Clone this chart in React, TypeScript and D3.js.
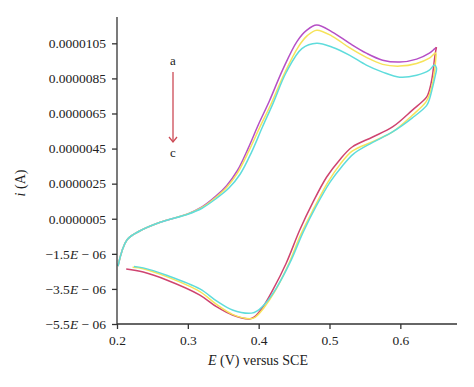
import { useEffect, useRef } from "react";
import * as d3 from "d3";

const W = 474;
const H = 387;
const margin = { top: 17, right: 17, bottom: 63, left: 117 };

// E (V) values on the x axis
const xTicks = [0.2, 0.3, 0.4, 0.5, 0.6];
// current ticks (A) and their printed labels
const yTicks = [10.5e-6, 8.5e-6, 6.5e-6, 4.5e-6, 2.5e-6, 0.5e-6, -1.5e-6, -3.5e-6, -5.5e-6];
const yLabels = ["0.0000105", "0.0000085", "0.0000065", "0.0000045", "0.0000025", "0.0000005", "-1.5E-06", "-3.5E-06", "-5.5E-06"];

// curve a, forward scan [E, i(µA)]
const aForward: [number, number][] = [
  [0.2014, -2.2], [0.214, -0.71], [0.232, -0.2], [0.261, 0.3], [0.3, 0.78],
  [0.32, 1.17], [0.34, 1.8], [0.355, 2.4], [0.37, 3.25], [0.385, 4.5], [0.4, 5.9],
  [0.415, 7.2], [0.434, 9.0], [0.454, 10.6], [0.468, 11.25], [0.482, 11.54], [0.504, 11.14],
  [0.528, 10.51], [0.552, 9.94], [0.575, 9.54], [0.599, 9.43], [0.623, 9.6],
  [0.641, 9.94], [0.648, 10.17], [0.651, 10.28],
];
// curve a, reverse scan
const aReverse: [number, number][] = [
  [0.651, 10.28], [0.649, 9.83], [0.645, 8.57], [0.641, 7.83], [0.637, 7.43],
  [0.617, 6.69], [0.589, 5.73], [0.561, 5.16], [0.532, 4.59], [0.514, 3.84],
  [0.496, 2.88], [0.476, 1.39], [0.458, -0.14], [0.439, -2.02], [0.42, -3.56],
  [0.406, -4.53], [0.394, -5.1], [0.387, -5.21], [0.363, -4.99], [0.341, -4.53],
  [0.317, -3.85], [0.27, -2.99], [0.237, -2.54], [0.213, -2.37],
];
// curve b
const bCurve: [number, number][] = [
  [0.2014, -2.2], [0.214, -0.71], [0.232, -0.2], [0.261, 0.3], [0.3, 0.77],
  [0.32, 1.14], [0.34, 1.74], [0.355, 2.3], [0.37, 3.1], [0.386, 4.35], [0.402, 5.75],
  [0.417, 7.0], [0.436, 8.75], [0.456, 10.3], [0.469, 10.95], [0.482, 11.25], [0.504, 10.9],
  [0.528, 10.25], [0.552, 9.7], [0.575, 9.3], [0.599, 9.2], [0.623, 9.35],
  [0.641, 9.65], [0.65, 9.95], [0.65, 9.6], [0.646, 8.3], [0.641, 7.55],
  [0.636, 7.15], [0.617, 6.4], [0.589, 5.45], [0.561, 4.9], [0.532, 4.35],
  [0.515, 3.6], [0.498, 2.6], [0.478, 1.1], [0.46, -0.35], [0.441, -2.2],
  [0.422, -3.7], [0.407, -4.6], [0.395, -5.12], [0.388, -5.2], [0.363, -4.95],
  [0.341, -4.4], [0.317, -3.65], [0.27, -2.8], [0.237, -2.35], [0.222, -2.27],
];
// curve c
const cCurve: [number, number][] = [
  [0.2014, -2.2], [0.214, -0.71], [0.232, -0.2], [0.261, 0.3], [0.3, 0.76],
  [0.32, 1.1], [0.34, 1.65], [0.358, 2.25], [0.374, 3.05], [0.39, 4.3], [0.405, 5.7],
  [0.42, 7.05], [0.439, 8.85], [0.461, 10.2], [0.482, 10.51], [0.504, 10.28], [0.528, 9.83],
  [0.552, 9.26], [0.575, 8.86], [0.599, 8.57], [0.623, 8.68], [0.641, 8.97],
  [0.648, 9.26], [0.651, 9.1], [0.649, 8.6], [0.645, 7.9], [0.641, 7.3],
  [0.637, 6.95], [0.617, 6.25], [0.589, 5.45], [0.561, 4.85], [0.534, 4.2],
  [0.517, 3.45], [0.501, 2.6], [0.481, 1.2], [0.463, -0.25], [0.444, -2.02],
  [0.425, -3.45], [0.41, -4.3], [0.398, -4.75], [0.39, -4.88], [0.363, -4.7],
  [0.341, -4.2], [0.317, -3.5], [0.27, -2.72], [0.237, -2.3], [0.224, -2.22],
];

const x = d3.scaleLinear().domain([0.2, 0.68]).range([margin.left, W - margin.right]);
const y = d3.scaleLinear().domain([-5.5e-6, 12e-6]).range([H - margin.bottom, margin.top]);

const line = d3
  .line<[number, number]>()
  .x((d) => x(d[0]))
  .y((d) => y(d[1] * 1e-6))
  .curve(d3.curveCatmullRom.alpha(0.5));

const serif = "'Liberation Serif', 'DejaVu Serif', serif";

const App = () => {
  const axRef = useRef<SVGGElement>(null);

  useEffect(() => {
    const g = d3.select(axRef.current);
    g.selectAll("*").remove();

    g.append("g")
      .attr("transform", `translate(0,${H - margin.bottom})`)
      .call(d3.axisBottom(x).tickValues(xTicks).tickSize(5).tickPadding(6).tickFormat(d3.format(".1f")))
      .call((s) => s.select(".domain").attr("d", `M${x(0.2)},0H${x(0.68)}`));

    g.append("g")
      .attr("transform", `translate(${margin.left},0)`)
      .call(d3.axisLeft(y).tickValues(yTicks).tickSize(5).tickPadding(6).tickFormat((_, i) => yLabels[i]))
      .call((s) => s.select(".domain").attr("d", `M0,${y(12e-6)}V${y(-5.5e-6)}`))
      .call((s) =>
        s.selectAll<SVGTextElement, number>(".tick text").each(function (_, i) {
          const lab = yLabels[i];
          if (!lab.includes("E")) return;
          const t = d3.select(this).text(null);
          const m = lab.match(/^-(.*)E-(.*)$/)!;
          t.append("tspan").text("\u2212" + m[1]);
          t.append("tspan").attr("font-style", "italic").text("E");
          t.append("tspan").text(" \u2212 " + m[2]);
        })
      );

    g.selectAll(".domain, .tick line").attr("stroke", "#333").attr("stroke-width", 1.3);
    g.selectAll(".tick text").attr("fill", "#222").attr("font-family", serif).attr("font-size", 13.5);
  }, []);

  return (
    <svg width={W} height={H} style={{ position: "absolute", left: 0, top: 0, background: "#fff" }}>
      <path d={line(aForward)!} fill="none" stroke="#b64fc6" strokeWidth={1.5} />
      <path d={line(aReverse)!} fill="none" stroke="#cf4470" strokeWidth={1.5} />
      <path d={line(bCurve)!} fill="none" stroke="#f6e35a" strokeWidth={1.5} />
      <path d={line(cCurve)!} fill="none" stroke="#5fdcdc" strokeWidth={1.5} />
      <g ref={axRef} />
      <text x={22} y={183} transform="rotate(-90 22 183)" textAnchor="middle" dominantBaseline="middle"
        fontFamily={serif} fontSize={14} fill="#222">
        <tspan fontStyle="italic">i</tspan> (A)
      </text>
      <text x={258} y={365} textAnchor="middle" fontFamily={serif} fontSize={14} fill="#222">
        <tspan fontStyle="italic">E</tspan> (V) versus SCE
      </text>
      <text x={173} y={65} textAnchor="middle" fontFamily={serif} fontSize={13} fill="#222">a</text>
      <line x1={173} y1={72} x2={173} y2={142} stroke="#cc4a55" strokeWidth={1.3} />
      <path d="M169,137 L173,142 L177,137" fill="none" stroke="#cc4a55" strokeWidth={1.3} />
      <text x={173} y={157} textAnchor="middle" fontFamily={serif} fontSize={13} fill="#222">c</text>
    </svg>
  );
};

export default App;
